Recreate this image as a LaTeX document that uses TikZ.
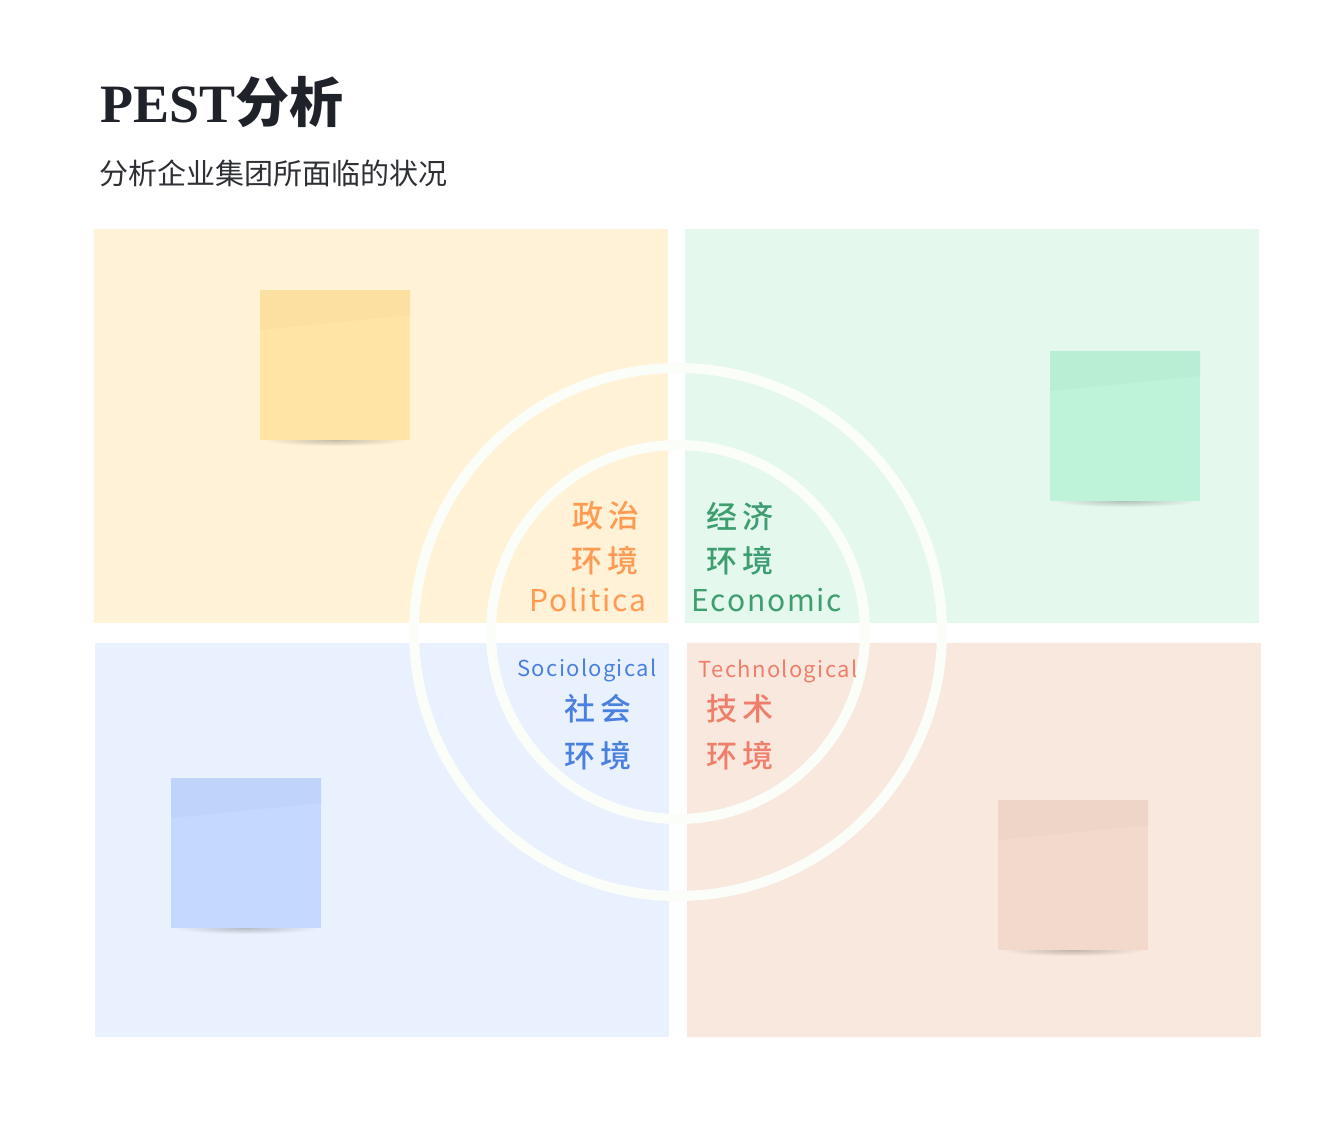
\documentclass[tikz,border=0pt]{standalone}
\usepackage{fontspec}
\setmainfont{Liberation Serif}
\newfontfamily\cjk{Noto Sans CJK SC}
\newfontfamily\cjkb{Noto Sans CJK SC Bold}
\newfontfamily\cjkm{Noto Sans CJK SC Medium}
\newfontfamily\hand[LetterSpace=6]{Noto Sans CJK SC}
\definecolor{bgY}{HTML}{FFF2D6}
\definecolor{bgG}{HTML}{E4F8EE}
\definecolor{bgB}{HTML}{EAF1FE}
\definecolor{bgR}{HTML}{F9E8DE}
\definecolor{nY}{HTML}{FFE4A6}
\definecolor{nYt}{HTML}{FBE0A1}
\definecolor{nG}{HTML}{BEF3DA}
\definecolor{nGt}{HTML}{B9EED5}
\definecolor{nB}{HTML}{C5D8FF}
\definecolor{nBt}{HTML}{C0D4FB}
\definecolor{nR}{HTML}{F2D9CB}
\definecolor{nRt}{HTML}{EED5C7}
\definecolor{ring}{HTML}{FBFDF9}
\definecolor{cO}{HTML}{FF9A52}
\definecolor{cG}{HTML}{3F9E6F}
\definecolor{cB}{HTML}{4A80E0}
\definecolor{cR}{HTML}{EF7F6B}
\definecolor{title}{HTML}{1F2229}
\definecolor{sub}{HTML}{2E3035}
\tikzset{
  cn/.style={font=\cjkm\fontsize{31}{34}\selectfont, inner sep=0pt},
  en/.style={font=\hand\fontsize{30}{34}\selectfont, inner sep=0pt},
  ensmall/.style={font=\hand\fontsize{22}{26}\selectfont, inner sep=0pt},
  ringline/.style={draw=ring, line width=10pt}
}
\newcommand{\stickynote}[5]{% x y body top bg
  \shade[inner color=black!22!#5, outer color=#5] (#1+75,#2+150) ellipse [x radius=72, y radius=6];
  \fill[#3] (#1,#2) rectangle (#1+150,#2+150);
  \fill[#4] (#1,#2) -- (#1+150,#2) -- (#1+150,#2+25) -- (#1,#2+40) -- cycle;
}
\begin{document}
\begin{tikzpicture}[x=1pt,y=-1pt]
\useasboundingbox (0,0) rectangle (1343,1136);
\fill[white] (0,0) rectangle (1343,1136);
% title
\node[anchor=base west, inner sep=0pt, text=title] (t) at (100,122)
  {\fontsize{54}{60}\selectfont\bfseries PEST{\cjkb 分析}};
\node[anchor=west, inner sep=0pt, text=sub] (s) at (99,173)
  {\cjk\fontsize{29}{32}\selectfont 分析企业集团所面临的状况};
% quadrants
\fill[bgY] (94,229) rectangle (668,623);
\fill[bgG] (685,229) rectangle (1259,623);
\fill[bgB] (95,643) rectangle (669,1037);
\fill[bgR] (687,643) rectangle (1261,1037);
% sticky notes
\stickynote{260}{290}{nY}{nYt}{bgY}
\stickynote{1050}{351}{nG}{nGt}{bgG}
\stickynote{171}{778}{nB}{nBt}{bgB}
\stickynote{998}{800}{nR}{nRt}{bgR}
% rings
\coordinate (c) at (678,632);
\draw[ringline] (c) circle [radius=264pt];
\draw[ringline] (c) circle [radius=187pt];
% labels
\node[cn, text=cO] (p1) at (606,516) {政\hspace{5pt}治};
\node[cn, text=cO] (p2) at (605,561) {环\hspace{5pt}境};
\node[en, text=cO] (p3) at (588,600) {Politica};
\node[cn, text=cG] (e1) at (740,516) {经\hspace{5pt}济};
\node[cn, text=cG] (e2) at (740,561) {环\hspace{5pt}境};
\node[en, text=cG] (e3) at (767,600) {Economic};
\node[ensmall, text=cB] (s1) at (587,670) {Sociological};
\node[cn, text=cB] (s2) at (598,709) {社\hspace{5pt}会};
\node[cn, text=cB] (s3) at (598,756) {环\hspace{5pt}境};
\node[ensmall, text=cR] (r1) at (778,671) {Technological};
\node[cn, text=cR] (r2) at (740,709) {技\hspace{5pt}术};
\node[cn, text=cR] (r3) at (740,756) {环\hspace{5pt}境};
\end{tikzpicture}
\end{document}
